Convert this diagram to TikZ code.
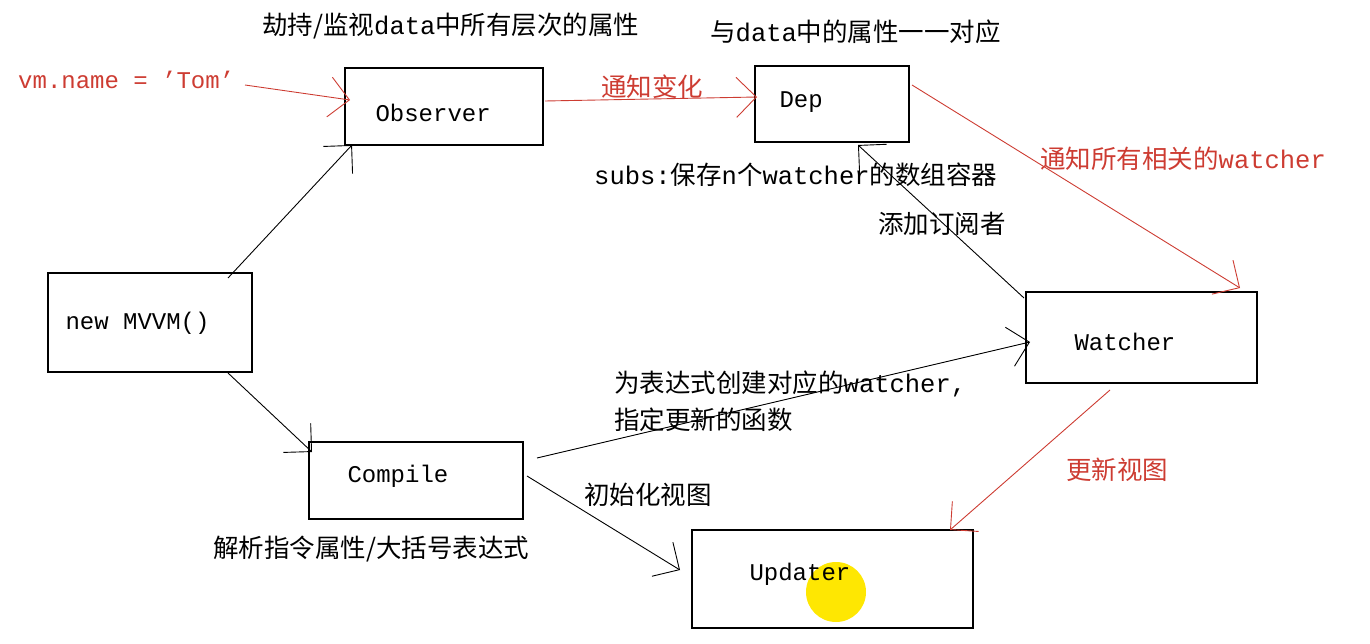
\documentclass[tikz,border=0pt]{standalone}
\usepackage{fontspec}
\setmainfont{Liberation Mono}
\newfontfamily\cjk{Noto Sans CJK SC}
\newcommand{\mL}[1]{{\normalfont #1}}
\usetikzlibrary{arrows.meta}
\definecolor{rd}{RGB}{205,60,50}
\begin{document}
\begin{tikzpicture}[x=1pt,y=-1pt,
  box/.style={draw,line width=1.2pt,inner sep=0},
  con/.style={line width=0.9pt,-{Straight Barb[length=20pt,width=40pt]}},
  lbl/.style={font=\fontsize{24}{28}\selectfont},
  clbl/.style={font=\cjk\fontsize{25.5}{30}\selectfont,anchor=west,inner sep=0}]
\useasboundingbox (0,0) rectangle (1370,644);
\draw[box] (345,68) rectangle (543,145);
\node[lbl,anchor=west] (obs) at (372,113) {Observer};
\draw[box] (755,66) rectangle (909,142);
\node[lbl,anchor=west] (depl) at (776,102) {Dep};
\draw[box] (48,273) rectangle (252,372);
\node[lbl,anchor=west] (mv) at (62,323) {new MVVM()};
\draw[box] (1026,292) rectangle (1257,383);
\node[lbl,anchor=west] (wl) at (1071,342) {Watcher};
\draw[box] (309,442) rectangle (523,519);
\node[lbl,anchor=west] (cl) at (344,476) {Compile};
\draw[box] (692,530) rectangle (973,628);
\fill[yellow!90!orange] (836,592) circle (30);
\node[lbl,anchor=west] (ul) at (746,574) {Updater};
% coordinates
\coordinate (a1) at (228,278); \coordinate (b1) at (352,145);
\coordinate (a2) at (228,373); \coordinate (b2) at (312,452);
\coordinate (a3) at (537,458); \coordinate (b3) at (1030,342);
\coordinate (a4) at (527,476); \coordinate (b4) at (680,570);
\coordinate (a5) at (1024,298); \coordinate (b5) at (858,145);
\coordinate (r1) at (245,85); \coordinate (s1) at (350,100);
\coordinate (r2) at (545,101); \coordinate (s2) at (757,97);
\coordinate (r3) at (912,85); \coordinate (s3) at (1240,288);
\coordinate (r4) at (1110,390); \coordinate (s4) at (950,530);
\draw[con] (a1)--(b1); \draw[con] (a2)--(b2); \draw[con] (a3)--(b3);
\draw[con] (a4)--(b4); \draw[con] (a5)--(b5);
\draw[con,rd] (r1)--(s1); \draw[con,rd] (r2)--(s2);
\draw[con,rd] (r3)--(s3); \draw[con,rd] (r4)--(s4);
% labels
\node[clbl] (t1) at (262,26) {劫持/监视\mL{data}中所有层次的属性};
\node[clbl] (t2) at (710,32) {与\mL{data}中的属性一一对应};
\node[lbl,rd,anchor=west,inner sep=0] (t3) at (18,80) {vm.name = 'Tom'};
\node[clbl,rd] (t4) at (601,87) {通知变化};
\node[clbl] (t5) at (594,175) {\mL{subs:}保存\mL{n}个\mL{watcher}的数组容器};
\node[clbl,rd] (t6) at (1040,159) {通知所有相关的\mL{watcher}};
\node[clbl] (t7) at (878,224) {添加订阅者};
\node[clbl] (t8) at (614,384) {为表达式创建对应的\mL{watcher,}};
\node[clbl] (t9) at (614,420) {指定更新的函数};
\node[clbl,rd] (t10) at (1066,470) {更新视图};
\node[clbl] (t11) at (584,495) {初始化视图};
\node[clbl] (t12) at (213,549) {解析指令属性/大括号表达式};
\end{tikzpicture}
\end{document}
